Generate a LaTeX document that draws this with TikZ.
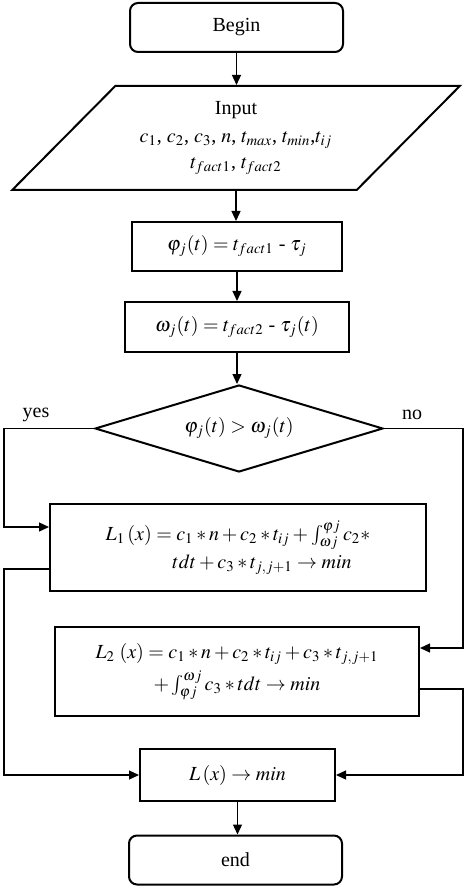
\documentclass[tikz,border=0pt]{standalone}
\usepackage{mathptmx}
\usepackage{fontspec}
\setmainfont{Liberation Serif}
\usetikzlibrary{arrows.meta,shapes.geometric}

\begin{document}
\begin{tikzpicture}[x=0.5pt,y=-0.5pt,
  box/.style={draw,line width=1pt,rectangle,align=center,inner sep=2pt},
  termbox/.style={box,rounded corners=4pt,minimum width=106.5pt,minimum height=24.5pt},
  iobox/.style={draw,line width=1pt,trapezium,trapezium left angle=42.6,trapezium right angle=137.4,
    trapezium stretches=true,align=center,minimum width=224pt,minimum height=52pt,inner sep=1pt},
  testbox/.style={draw,line width=1pt,diamond,aspect=3.3,minimum width=144pt,minimum height=43.5pt,inner sep=0pt},
  arr/.style={-{Triangle[length=5pt,width=4.5pt]},line width=0.65pt},
  lbl/.style={font=\normalsize}]
\useasboundingbox (0,0) rectangle (474,887);
% Start and input
\node[termbox] (begin) at (236.5,27.5) {Begin};
\node[iobox] (input) at (236,138) {Input\\[2pt]
  $c_1$, $c_2$, $c_3$, $n$, $t_{max}$, $t_{min}$,$t_{ij}$\\[1pt]
  $t_{fact1}$, $t_{fact2}$};
% Times
\node[box,minimum width=105pt,minimum height=24.5pt] (phi) at (237,246.5) {$\varphi_j(t) = t_{fact1}$ - $\tau_j$};
\node[box,minimum width=112pt,minimum height=25pt] (omega) at (237,327) {$\omega_j(t) = t_{fact2}$ - $\tau_j(t)$};
% Decision
\node[testbox] (test) at (239,428.5) {$\varphi_j(t) > \omega_j(t)$};
\node[lbl] (yes) at (36,415) {yes};
\node[lbl] (no) at (412,415) {no};
% Objective functions
\node[box,minimum width=188pt,minimum height=43.5pt] (L1) at (238,547.5)
  {$L_1\left(x\right) = c_1 * n + c_2 * t_{ij} + \int_{\omega j}^{\varphi j} c_2 *$\\[2pt]
   \hspace*{24pt}$tdt + c_3 * t_{j,j+1} \rightarrow min$};
\node[box,minimum width=182pt,minimum height=44.5pt] (L2) at (237,671.5)
  {$L_2\,\left(x\right) = c_1 * n + c_2 * t_{ij} + c_3 * t_{j,j+1}$\\[2pt]
   $+\int_{\varphi j}^{\omega j} c_3 * tdt \rightarrow min$};
\node[box,minimum width=97.5pt,minimum height=26pt] (L) at (237.5,775) {$L\left(x\right) \rightarrow min$};
\node[termbox] (end) at (235.5,860) {end};
% Flow
\draw[arr] (begin.south) -- (begin.south |- input.north);
\draw[arr] (input.south) -- (input.south |- phi.north);
\draw[arr] (phi.south) -- (phi.south |- omega.north);
\draw[arr] (omega.south) -- (omega.south |- test.north);
\draw[arr] (test.west) -- ++(-90,0) |- ([yshift=10.25pt]L1.west);
\draw[arr] (test.east) -- ++(79,0) |- ([yshift=11.75pt]L2.east);
\draw[arr] ([yshift=-10.75pt]L1.west) -- ++(-45,0) |- (L.west);
\draw[arr] ([yshift=-8.75pt]L2.east) -- ++(43,0) |- (L.east);
\draw[arr] (L.south) -- (L.south |- end.north);
\end{tikzpicture}
\end{document}
